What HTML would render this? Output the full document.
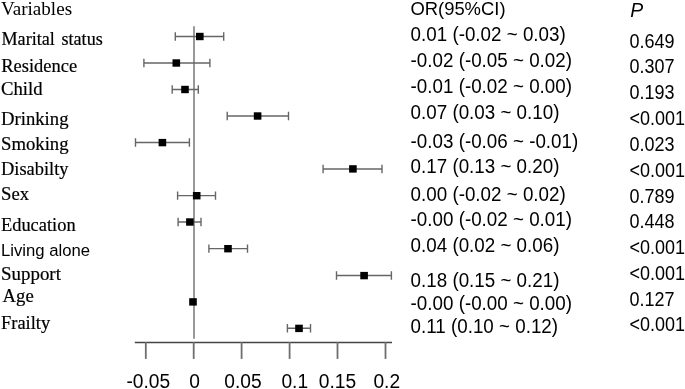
<!DOCTYPE html><html><head><meta charset="utf-8"><style>html,body{margin:0;padding:0;background:#fff;}svg{display:block;}.s{font-family:"Liberation Serif", "Times New Roman", serif;font-size:19px;fill:#000;stroke:#000;stroke-width:0.2px;}.l{font-family:"Liberation Sans", Arial, sans-serif;font-size:16.7px;fill:#000;}.o{font-family:"Liberation Sans", Arial, sans-serif;font-size:18.8px;fill:#000;}.p{font-family:"Liberation Sans", Arial, sans-serif;font-size:18px;fill:#000;}.t{font-family:"Liberation Sans", Arial, sans-serif;font-size:19.2px;fill:#000;}</style></head><body>
<svg width="685" height="389" viewBox="0 0 685 389">
<line x1="194" y1="26.2" x2="194" y2="338.8" stroke="#999" stroke-width="2"/>
<line x1="134.8" y1="342.5" x2="392" y2="342.5" stroke="#444" stroke-width="1.6"/>
<line x1="145.8" y1="342" x2="145.8" y2="358.9" stroke="#6e6e6e" stroke-width="1.8"/>
<text class="t" transform="translate(126.40 387.6) scale(1 1.1)">-0.05</text>
<line x1="193.7" y1="342" x2="193.7" y2="358.9" stroke="#6e6e6e" stroke-width="1.8"/>
<text class="t" transform="translate(189.30 387.6) scale(1 1.1)">0</text>
<line x1="241.6" y1="342" x2="241.6" y2="358.9" stroke="#6e6e6e" stroke-width="1.8"/>
<text class="t" transform="translate(224.30 387.6) scale(1 1.1)">0.05</text>
<line x1="289.6" y1="342" x2="289.6" y2="358.9" stroke="#6e6e6e" stroke-width="1.8"/>
<text class="t" transform="translate(281.40 387.6) scale(1 1.1)">0.1</text>
<line x1="337.5" y1="342" x2="337.5" y2="358.9" stroke="#6e6e6e" stroke-width="1.8"/>
<text class="t" transform="translate(318.80 387.6) scale(1 1.1)">0.15</text>
<line x1="385.5" y1="342" x2="385.5" y2="358.9" stroke="#6e6e6e" stroke-width="1.8"/>
<text class="t" transform="translate(373.40 387.6) scale(1 1.1)">0.2</text>
<path d="M175.3 36.5H223.7M175.3 32.3V40.7M223.7 32.3V40.7" stroke="#666" stroke-width="1.4" fill="none"/>
<rect x="196.0" y="32.8" width="7.6" height="7.4" fill="#000"/>
<path d="M143.9 63.0H209.9M143.9 58.8V67.2M209.9 58.8V67.2" stroke="#666" stroke-width="1.4" fill="none"/>
<rect x="172.5" y="59.3" width="7.6" height="7.4" fill="#000"/>
<path d="M172.2 89.5H198.3M172.2 85.3V93.7M198.3 85.3V93.7" stroke="#666" stroke-width="1.4" fill="none"/>
<rect x="181.2" y="85.8" width="7.6" height="7.4" fill="#000"/>
<path d="M227.2 116.0H288.5M227.2 111.8V120.2M288.5 111.8V120.2" stroke="#666" stroke-width="1.4" fill="none"/>
<rect x="253.8" y="112.3" width="7.6" height="7.4" fill="#000"/>
<path d="M135.5 142.5H189.4M135.5 138.3V146.7M189.4 138.3V146.7" stroke="#666" stroke-width="1.4" fill="none"/>
<rect x="158.6" y="138.9" width="7.6" height="7.4" fill="#000"/>
<path d="M323.1 169.0H382.0M323.1 164.8V173.2M382.0 164.8V173.2" stroke="#666" stroke-width="1.4" fill="none"/>
<rect x="349.1" y="165.2" width="7.6" height="7.4" fill="#000"/>
<path d="M177.6 195.6H215.5M177.6 191.4V199.8M215.5 191.4V199.8" stroke="#666" stroke-width="1.4" fill="none"/>
<rect x="192.9" y="192.0" width="7.6" height="7.4" fill="#000"/>
<path d="M178.1 222.0H201.0M178.1 217.8V226.2M201.0 217.8V226.2" stroke="#666" stroke-width="1.4" fill="none"/>
<rect x="186.1" y="218.3" width="7.6" height="7.4" fill="#000"/>
<path d="M208.9 248.6H247.5M208.9 244.4V252.8M247.5 244.4V252.8" stroke="#666" stroke-width="1.4" fill="none"/>
<rect x="224.2" y="245.0" width="7.6" height="7.4" fill="#000"/>
<path d="M336.5 275.5H391.4M336.5 271.3V279.7M391.4 271.3V279.7" stroke="#666" stroke-width="1.4" fill="none"/>
<rect x="360.3" y="271.9" width="7.6" height="7.4" fill="#000"/>
<rect x="189.2" y="298.2" width="7.6" height="7.4" fill="#000"/>
<path d="M287.4 328.3H310.5M287.4 324.1V332.5M310.5 324.1V332.5" stroke="#666" stroke-width="1.4" fill="none"/>
<rect x="295.2" y="324.7" width="7.6" height="7.4" fill="#000"/>
<g transform="scale(0.9850,1)">
<text class="s" x="1.02" y="14.5" style="font-size:19.4px;stroke-width:0">Variables</text>
</g>
<g transform="scale(0.9850,1)">
<text class="s" x="1.52" y="45.0" style="font-size:18.4px">Marital</text>
</g>
<g transform="scale(0.9850,1)">
<text class="s" x="62.44" y="45.0" style="font-size:18.4px">status</text>
</g>
<g transform="scale(0.9732,1)">
<text class="s" x="1.23" y="71.6">Residence</text>
</g>
<g transform="scale(0.9850,1)">
<text class="s" x="1.02" y="95.1">Child</text>
</g>
<g transform="scale(0.9850,1)">
<text class="s" x="1.02" y="124.7">Drinking</text>
</g>
<g transform="scale(0.9850,1)">
<text class="s" x="1.02" y="150.0">Smoking</text>
</g>
<g transform="scale(0.9702,1)">
<text class="s" x="1.03" y="174.7">Disabilty</text>
</g>
<g transform="scale(0.9850,1)">
<text class="s" x="1.02" y="200.5">Sex</text>
</g>
<g transform="scale(0.9683,1)">
<text class="s" x="1.03" y="230.6">Education</text>
</g>
<g transform="scale(0.9968,1)">
<text class="s" x="1.00" y="280.0">Support</text>
</g>
<g transform="scale(0.9850,1)">
<text class="s" x="2.64" y="301.6">Age</text>
</g>
<g transform="scale(0.9712,1)">
<text class="s" x="1.03" y="328.9">Frailty</text>
</g>
<text class="l" x="1.00" y="256.2">Living alone</text>
<g transform="translate(410.4,0) scale(0.96,1)"><text class="o" x="0" y="15.4" style="font-size:19.2px">OR(95%CI)</text></g>
<text class="o" transform="translate(410.6 41.00) scale(1 1.1)">0.01 (-0.02 ~ 0.03)</text>
<text class="o" transform="translate(410.6 66.80) scale(1 1.1)">-0.02 (-0.05 ~ 0.02)</text>
<text class="o" transform="translate(410.6 93.20) scale(1 1.1)">-0.01 (-0.02 ~ 0.00)</text>
<text class="o" transform="translate(410.6 118.60) scale(1 1.1)">0.07 (0.03 ~ 0.10)</text>
<text class="o" transform="translate(410.6 147.60) scale(1 1.1)">-0.03 (-0.06 ~ -0.01)</text>
<text class="o" transform="translate(410.6 172.60) scale(1 1.1)">0.17 (0.13 ~ 0.20)</text>
<text class="o" transform="translate(410.6 200.70) scale(1 1.1)">0.00 (-0.02 ~ 0.02)</text>
<text class="o" transform="translate(410.6 225.70) scale(1 1.1)">-0.00 (-0.02 ~ 0.01)</text>
<text class="o" transform="translate(410.6 251.70) scale(1 1.1)">0.04 (0.02 ~ 0.06)</text>
<text class="o" transform="translate(410.6 286.50) scale(1 1.1)">0.18 (0.15 ~ 0.21)</text>
<text class="o" transform="translate(410.6 309.60) scale(1 1.1)">-0.00 (-0.00 ~ 0.00)</text>
<text class="o" transform="translate(410.6 333.20) scale(1 1.1)">0.11 (0.10 ~ 0.12)</text>
<text class="p" x="630.2" y="17.0" font-style="italic" style="font-size:19.4px">P</text>
<text class="p" transform="translate(629.5 47.80) scale(1 1.1)">0.649</text>
<text class="p" transform="translate(629.5 72.70) scale(1 1.1)">0.307</text>
<text class="p" transform="translate(629.5 98.60) scale(1 1.1)">0.193</text>
<text class="p" transform="translate(629.5 124.80) scale(1 1.1)">&lt;0.001</text>
<text class="p" transform="translate(629.5 150.90) scale(1 1.1)">0.023</text>
<text class="p" transform="translate(629.5 176.80) scale(1 1.1)">&lt;0.001</text>
<text class="p" transform="translate(629.5 203.00) scale(1 1.1)">0.789</text>
<text class="p" transform="translate(629.5 228.40) scale(1 1.1)">0.448</text>
<text class="p" transform="translate(629.5 253.60) scale(1 1.1)">&lt;0.001</text>
<text class="p" transform="translate(629.5 279.70) scale(1 1.1)">&lt;0.001</text>
<text class="p" transform="translate(629.5 306.00) scale(1 1.1)">0.127</text>
<text class="p" transform="translate(629.5 330.60) scale(1 1.1)">&lt;0.001</text>
</svg></body></html>
